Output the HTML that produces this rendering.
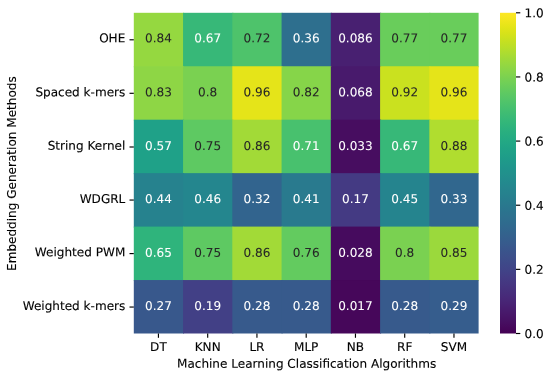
<!DOCTYPE html>
<html><head><meta charset="utf-8"><title>Heatmap</title>
<style>html,body{margin:0;padding:0;background:#fff;overflow:hidden}svg{display:block}text{font-family:"DejaVu Sans","Liberation Sans",sans-serif}</style></head><body>
<svg width="550" height="376" viewBox="0 0 550 376">
<rect width="550" height="376" fill="#fff"/>
<defs><linearGradient id="cb" x1="0" y1="1" x2="0" y2="0">
<stop offset="0.0000" stop-color="#440154"/>
<stop offset="0.0156" stop-color="#46075a"/>
<stop offset="0.0312" stop-color="#470d60"/>
<stop offset="0.0469" stop-color="#471365"/>
<stop offset="0.0625" stop-color="#48186a"/>
<stop offset="0.0781" stop-color="#481d6f"/>
<stop offset="0.0938" stop-color="#482374"/>
<stop offset="0.1094" stop-color="#482878"/>
<stop offset="0.1250" stop-color="#472d7b"/>
<stop offset="0.1406" stop-color="#46327e"/>
<stop offset="0.1562" stop-color="#453781"/>
<stop offset="0.1719" stop-color="#443b84"/>
<stop offset="0.1875" stop-color="#424086"/>
<stop offset="0.2031" stop-color="#404588"/>
<stop offset="0.2188" stop-color="#3e4989"/>
<stop offset="0.2344" stop-color="#3d4e8a"/>
<stop offset="0.2500" stop-color="#3b528b"/>
<stop offset="0.2656" stop-color="#39568c"/>
<stop offset="0.2812" stop-color="#375b8d"/>
<stop offset="0.2969" stop-color="#355f8d"/>
<stop offset="0.3125" stop-color="#33638d"/>
<stop offset="0.3281" stop-color="#31678e"/>
<stop offset="0.3438" stop-color="#2f6b8e"/>
<stop offset="0.3594" stop-color="#2e6f8e"/>
<stop offset="0.3750" stop-color="#2c728e"/>
<stop offset="0.3906" stop-color="#2a768e"/>
<stop offset="0.4062" stop-color="#297a8e"/>
<stop offset="0.4219" stop-color="#277e8e"/>
<stop offset="0.4375" stop-color="#26828e"/>
<stop offset="0.4531" stop-color="#25858e"/>
<stop offset="0.4688" stop-color="#23898e"/>
<stop offset="0.4844" stop-color="#228d8d"/>
<stop offset="0.5000" stop-color="#21918c"/>
<stop offset="0.5156" stop-color="#1f948c"/>
<stop offset="0.5312" stop-color="#1f988b"/>
<stop offset="0.5469" stop-color="#1e9c89"/>
<stop offset="0.5625" stop-color="#1fa088"/>
<stop offset="0.5781" stop-color="#20a386"/>
<stop offset="0.5938" stop-color="#22a785"/>
<stop offset="0.6094" stop-color="#25ab82"/>
<stop offset="0.6250" stop-color="#28ae80"/>
<stop offset="0.6406" stop-color="#2db27d"/>
<stop offset="0.6562" stop-color="#32b67a"/>
<stop offset="0.6719" stop-color="#38b977"/>
<stop offset="0.6875" stop-color="#3fbc73"/>
<stop offset="0.7031" stop-color="#46c06f"/>
<stop offset="0.7188" stop-color="#4ec36b"/>
<stop offset="0.7344" stop-color="#56c667"/>
<stop offset="0.7500" stop-color="#5ec962"/>
<stop offset="0.7656" stop-color="#67cc5c"/>
<stop offset="0.7812" stop-color="#70cf57"/>
<stop offset="0.7969" stop-color="#7ad151"/>
<stop offset="0.8125" stop-color="#84d44b"/>
<stop offset="0.8281" stop-color="#8ed645"/>
<stop offset="0.8438" stop-color="#98d83e"/>
<stop offset="0.8594" stop-color="#a2da37"/>
<stop offset="0.8750" stop-color="#addc30"/>
<stop offset="0.8906" stop-color="#b8de29"/>
<stop offset="0.9062" stop-color="#c2df23"/>
<stop offset="0.9219" stop-color="#cde11d"/>
<stop offset="0.9375" stop-color="#d8e219"/>
<stop offset="0.9531" stop-color="#e2e418"/>
<stop offset="0.9688" stop-color="#ece51b"/>
<stop offset="0.9844" stop-color="#f6e620"/>
<stop offset="1.0000" stop-color="#fde725"/>
</linearGradient></defs>
<g>
<rect x="133.80" y="12.80" width="50.26" height="54.45" fill="#95d840"/>
<rect x="183.06" y="12.80" width="50.26" height="54.45" fill="#37b878"/>
<rect x="232.31" y="12.80" width="50.26" height="54.45" fill="#4ec36b"/>
<rect x="281.57" y="12.80" width="50.26" height="54.45" fill="#2e6f8e"/>
<rect x="330.83" y="12.80" width="50.26" height="54.45" fill="#482071"/>
<rect x="380.09" y="12.80" width="50.26" height="54.45" fill="#69cd5b"/>
<rect x="429.34" y="12.80" width="49.26" height="54.45" fill="#69cd5b"/>
<rect x="133.80" y="66.25" width="50.26" height="54.45" fill="#8ed645"/>
<rect x="183.06" y="66.25" width="50.26" height="54.45" fill="#7ad151"/>
<rect x="232.31" y="66.25" width="50.26" height="54.45" fill="#e5e419"/>
<rect x="281.57" y="66.25" width="50.26" height="54.45" fill="#86d549"/>
<rect x="330.83" y="66.25" width="50.26" height="54.45" fill="#481a6c"/>
<rect x="380.09" y="66.25" width="50.26" height="54.45" fill="#cae11f"/>
<rect x="429.34" y="66.25" width="49.26" height="54.45" fill="#e5e419"/>
<rect x="133.80" y="119.70" width="50.26" height="54.45" fill="#1fa188"/>
<rect x="183.06" y="119.70" width="50.26" height="54.45" fill="#5ec962"/>
<rect x="232.31" y="119.70" width="50.26" height="54.45" fill="#a2da37"/>
<rect x="281.57" y="119.70" width="50.26" height="54.45" fill="#48c16e"/>
<rect x="330.83" y="119.70" width="50.26" height="54.45" fill="#470d60"/>
<rect x="380.09" y="119.70" width="50.26" height="54.45" fill="#37b878"/>
<rect x="429.34" y="119.70" width="49.26" height="54.45" fill="#b0dd2f"/>
<rect x="133.80" y="173.15" width="50.26" height="54.45" fill="#26828e"/>
<rect x="183.06" y="173.15" width="50.26" height="54.45" fill="#24868e"/>
<rect x="232.31" y="173.15" width="50.26" height="54.45" fill="#32648e"/>
<rect x="281.57" y="173.15" width="50.26" height="54.45" fill="#297a8e"/>
<rect x="330.83" y="173.15" width="50.26" height="54.45" fill="#443a83"/>
<rect x="380.09" y="173.15" width="50.26" height="54.45" fill="#25848e"/>
<rect x="429.34" y="173.15" width="49.26" height="54.45" fill="#31678e"/>
<rect x="133.80" y="226.60" width="50.26" height="54.45" fill="#2fb47c"/>
<rect x="183.06" y="226.60" width="50.26" height="54.45" fill="#5ec962"/>
<rect x="232.31" y="226.60" width="50.26" height="54.45" fill="#a2da37"/>
<rect x="281.57" y="226.60" width="50.26" height="54.45" fill="#63cb5f"/>
<rect x="330.83" y="226.60" width="50.26" height="54.45" fill="#460b5e"/>
<rect x="380.09" y="226.60" width="50.26" height="54.45" fill="#7ad151"/>
<rect x="429.34" y="226.60" width="49.26" height="54.45" fill="#9bd93c"/>
<rect x="133.80" y="280.05" width="50.26" height="53.45" fill="#38588c"/>
<rect x="183.06" y="280.05" width="50.26" height="53.45" fill="#424086"/>
<rect x="232.31" y="280.05" width="50.26" height="53.45" fill="#375a8c"/>
<rect x="281.57" y="280.05" width="50.26" height="53.45" fill="#375a8c"/>
<rect x="330.83" y="280.05" width="50.26" height="53.45" fill="#46075a"/>
<rect x="380.09" y="280.05" width="50.26" height="53.45" fill="#375a8c"/>
<rect x="429.34" y="280.05" width="49.26" height="53.45" fill="#365d8d"/>
</g>
<rect x="500.00" y="12.80" width="16.00" height="320.70" fill="url(#cb)"/>
<g stroke="#000" stroke-width="1.15">
<line x1="129.50" y1="39.80" x2="133.80" y2="39.80"/>
<line x1="129.50" y1="93.30" x2="133.80" y2="93.30"/>
<line x1="129.50" y1="147.00" x2="133.80" y2="147.00"/>
<line x1="129.50" y1="200.05" x2="133.80" y2="200.05"/>
<line x1="129.50" y1="253.60" x2="133.80" y2="253.60"/>
<line x1="129.50" y1="307.05" x2="133.80" y2="307.05"/>
<line x1="158.43" y1="333.50" x2="158.43" y2="337.80"/>
<line x1="207.69" y1="333.50" x2="207.69" y2="337.80"/>
<line x1="256.94" y1="333.50" x2="256.94" y2="337.80"/>
<line x1="306.20" y1="333.50" x2="306.20" y2="337.80"/>
<line x1="355.46" y1="333.50" x2="355.46" y2="337.80"/>
<line x1="404.71" y1="333.50" x2="404.71" y2="337.80"/>
<line x1="453.97" y1="333.50" x2="453.97" y2="337.80"/>
<line x1="516.00" y1="333.50" x2="520.30" y2="333.50"/>
<line x1="516.00" y1="269.36" x2="520.30" y2="269.36"/>
<line x1="516.00" y1="205.22" x2="520.30" y2="205.22"/>
<line x1="516.00" y1="141.08" x2="520.30" y2="141.08"/>
<line x1="516.00" y1="76.94" x2="520.30" y2="76.94"/>
<line x1="516.00" y1="12.80" x2="520.30" y2="12.80"/>
</g>
<g font-size="12.06" text-anchor="middle" stroke-width="0.06">
<text x="158.43" y="42.30" transform="rotate(0.03 158.43 42.30)" fill="#262626" stroke="#262626">0.84</text>
<text x="207.69" y="42.30" transform="rotate(0.03 207.69 42.30)" fill="#ffffff" stroke="#ffffff">0.67</text>
<text x="256.94" y="42.30" transform="rotate(0.03 256.94 42.30)" fill="#262626" stroke="#262626">0.72</text>
<text x="306.20" y="42.30" transform="rotate(0.03 306.20 42.30)" fill="#ffffff" stroke="#ffffff">0.36</text>
<text x="355.46" y="42.30" transform="rotate(0.03 355.46 42.30)" fill="#ffffff" stroke="#ffffff">0.086</text>
<text x="404.71" y="42.30" transform="rotate(0.03 404.71 42.30)" fill="#262626" stroke="#262626">0.77</text>
<text x="453.97" y="42.30" transform="rotate(0.03 453.97 42.30)" fill="#262626" stroke="#262626">0.77</text>
<text x="158.43" y="96.15" transform="rotate(0.03 158.43 96.15)" fill="#262626" stroke="#262626">0.83</text>
<text x="207.69" y="96.15" transform="rotate(0.03 207.69 96.15)" fill="#262626" stroke="#262626">0.8</text>
<text x="256.94" y="96.15" transform="rotate(0.03 256.94 96.15)" fill="#262626" stroke="#262626">0.96</text>
<text x="306.20" y="96.15" transform="rotate(0.03 306.20 96.15)" fill="#262626" stroke="#262626">0.82</text>
<text x="355.46" y="96.15" transform="rotate(0.03 355.46 96.15)" fill="#ffffff" stroke="#ffffff">0.068</text>
<text x="404.71" y="96.15" transform="rotate(0.03 404.71 96.15)" fill="#262626" stroke="#262626">0.92</text>
<text x="453.97" y="96.15" transform="rotate(0.03 453.97 96.15)" fill="#262626" stroke="#262626">0.96</text>
<text x="158.43" y="150.00" transform="rotate(0.03 158.43 150.00)" fill="#ffffff" stroke="#ffffff">0.57</text>
<text x="207.69" y="150.00" transform="rotate(0.03 207.69 150.00)" fill="#262626" stroke="#262626">0.75</text>
<text x="256.94" y="150.00" transform="rotate(0.03 256.94 150.00)" fill="#262626" stroke="#262626">0.86</text>
<text x="306.20" y="150.00" transform="rotate(0.03 306.20 150.00)" fill="#ffffff" stroke="#ffffff">0.71</text>
<text x="355.46" y="150.00" transform="rotate(0.03 355.46 150.00)" fill="#ffffff" stroke="#ffffff">0.033</text>
<text x="404.71" y="150.00" transform="rotate(0.03 404.71 150.00)" fill="#ffffff" stroke="#ffffff">0.67</text>
<text x="453.97" y="150.00" transform="rotate(0.03 453.97 150.00)" fill="#262626" stroke="#262626">0.88</text>
<text x="158.43" y="203.10" transform="rotate(0.03 158.43 203.10)" fill="#ffffff" stroke="#ffffff">0.44</text>
<text x="207.69" y="203.10" transform="rotate(0.03 207.69 203.10)" fill="#ffffff" stroke="#ffffff">0.46</text>
<text x="256.94" y="203.10" transform="rotate(0.03 256.94 203.10)" fill="#ffffff" stroke="#ffffff">0.32</text>
<text x="306.20" y="203.10" transform="rotate(0.03 306.20 203.10)" fill="#ffffff" stroke="#ffffff">0.41</text>
<text x="355.46" y="203.10" transform="rotate(0.03 355.46 203.10)" fill="#ffffff" stroke="#ffffff">0.17</text>
<text x="404.71" y="203.10" transform="rotate(0.03 404.71 203.10)" fill="#ffffff" stroke="#ffffff">0.45</text>
<text x="453.97" y="203.10" transform="rotate(0.03 453.97 203.10)" fill="#ffffff" stroke="#ffffff">0.33</text>
<text x="158.43" y="256.70" transform="rotate(0.03 158.43 256.70)" fill="#ffffff" stroke="#ffffff">0.65</text>
<text x="207.69" y="256.70" transform="rotate(0.03 207.69 256.70)" fill="#262626" stroke="#262626">0.75</text>
<text x="256.94" y="256.70" transform="rotate(0.03 256.94 256.70)" fill="#262626" stroke="#262626">0.86</text>
<text x="306.20" y="256.70" transform="rotate(0.03 306.20 256.70)" fill="#262626" stroke="#262626">0.76</text>
<text x="355.46" y="256.70" transform="rotate(0.03 355.46 256.70)" fill="#ffffff" stroke="#ffffff">0.028</text>
<text x="404.71" y="256.70" transform="rotate(0.03 404.71 256.70)" fill="#262626" stroke="#262626">0.8</text>
<text x="453.97" y="256.70" transform="rotate(0.03 453.97 256.70)" fill="#262626" stroke="#262626">0.85</text>
<text x="158.43" y="310.10" transform="rotate(0.03 158.43 310.10)" fill="#ffffff" stroke="#ffffff">0.27</text>
<text x="207.69" y="310.10" transform="rotate(0.03 207.69 310.10)" fill="#ffffff" stroke="#ffffff">0.19</text>
<text x="256.94" y="310.10" transform="rotate(0.03 256.94 310.10)" fill="#ffffff" stroke="#ffffff">0.28</text>
<text x="306.20" y="310.10" transform="rotate(0.03 306.20 310.10)" fill="#ffffff" stroke="#ffffff">0.28</text>
<text x="355.46" y="310.10" transform="rotate(0.03 355.46 310.10)" fill="#ffffff" stroke="#ffffff">0.017</text>
<text x="404.71" y="310.10" transform="rotate(0.03 404.71 310.10)" fill="#ffffff" stroke="#ffffff">0.28</text>
<text x="453.97" y="310.10" transform="rotate(0.03 453.97 310.10)" fill="#ffffff" stroke="#ffffff">0.29</text>
</g>
<g font-size="12.06" fill="#000" stroke="#000" stroke-width="0.12">
<text x="125.30" y="42.30" transform="rotate(0.03 125.30 42.30)" text-anchor="end">OHE</text>
<text x="125.30" y="96.30" transform="rotate(0.03 125.30 96.30)" text-anchor="end">Spaced k-mers</text>
<text x="125.30" y="149.80" transform="rotate(0.03 125.30 149.80)" text-anchor="end">String Kernel</text>
<text x="125.30" y="203.00" transform="rotate(0.03 125.30 203.00)" text-anchor="end">WDGRL</text>
<text x="125.30" y="256.30" transform="rotate(0.03 125.30 256.30)" text-anchor="end">Weighted PWM</text>
<text x="125.30" y="310.10" transform="rotate(0.03 125.30 310.10)" text-anchor="end">Weighted k-mers</text>
<text x="158.43" y="351.10" transform="rotate(0.03 158.43 351.10)" text-anchor="middle">DT</text>
<text x="207.69" y="351.10" transform="rotate(0.03 207.69 351.10)" text-anchor="middle">KNN</text>
<text x="256.94" y="351.10" transform="rotate(0.03 256.94 351.10)" text-anchor="middle">LR</text>
<text x="306.20" y="351.10" transform="rotate(0.03 306.20 351.10)" text-anchor="middle">MLP</text>
<text x="355.46" y="351.10" transform="rotate(0.03 355.46 351.10)" text-anchor="middle">NB</text>
<text x="404.71" y="351.10" transform="rotate(0.03 404.71 351.10)" text-anchor="middle">RF</text>
<text x="453.97" y="351.10" transform="rotate(0.03 453.97 351.10)" text-anchor="middle">SVM</text>
<text x="524.50" y="338.00" transform="rotate(0.03 524.50 338.00)">0.0</text>
<text x="524.50" y="273.86" transform="rotate(0.03 524.50 273.86)">0.2</text>
<text x="524.50" y="209.72" transform="rotate(0.03 524.50 209.72)">0.4</text>
<text x="524.50" y="145.58" transform="rotate(0.03 524.50 145.58)">0.6</text>
<text x="524.50" y="81.44" transform="rotate(0.03 524.50 81.44)">0.8</text>
<text x="524.50" y="17.30" transform="rotate(0.03 524.50 17.30)">1.0</text>
<text x="306.60" y="367.70" transform="rotate(0.03 306.60 367.70)" text-anchor="middle">Machine Learning Classification Algorithms</text>
<text transform="translate(15.50 173.60) rotate(-90)" text-anchor="middle">Embedding Generation Methods</text>
</g>
</svg></body></html>
